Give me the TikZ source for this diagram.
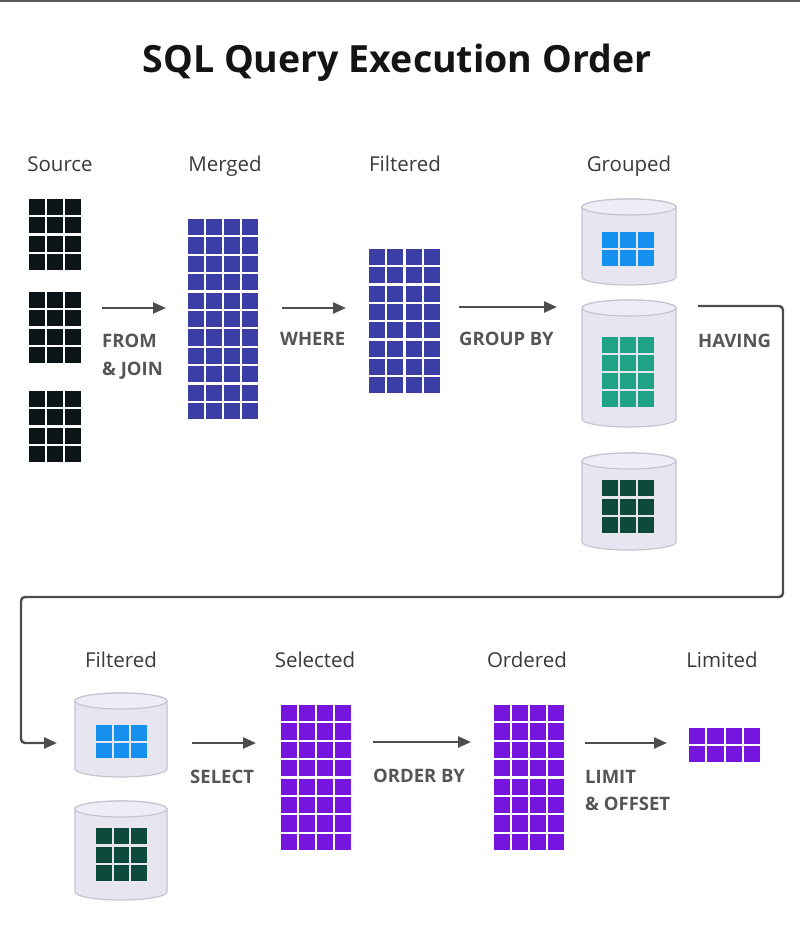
\documentclass[tikz,border=0pt]{standalone}
\usepackage{fontspec}
\setmainfont{Open Sans}
\usetikzlibrary{arrows.meta}
\definecolor{cblk}{HTML}{0B1417}
\definecolor{cblu}{HTML}{3B3FA5}
\definecolor{ccyan}{HTML}{1590EE}
\definecolor{cteal}{HTML}{1FA386}
\definecolor{cdkg}{HTML}{0E4A3B}
\definecolor{cpur}{HTML}{7614E0}
\definecolor{carrow}{HTML}{4D4D4D}
\definecolor{copl}{HTML}{555555}
\definecolor{ccat}{HTML}{3A3A3A}
\definecolor{cylbody}{HTML}{E7E6F0}
\definecolor{cyltopc}{HTML}{EEEDF5}
\definecolor{cyledge}{HTML}{C6C4D3}
\newcommand\sqgrid[7]{%
  \foreach \ci in {1,...,#3}{\foreach \cj in {1,...,#4}{%
    \fill[#7] ({#1+(\ci-1)*#5},{#2+(\cj-1)*#6}) rectangle +({#5-2.2},{#6-2.2});}}}
% name, xl, xr, yt, yb, cx, rx
\newcommand\dbcyl[7]{%
  \fill[cylbody, draw=cyledge, line width=1.2] (#2,#4+8) -- (#2,#5-8)
     arc[start angle=180, end angle=0, x radius=#7, y radius=8] -- (#3,#4+8)
     arc[start angle=0, end angle=-180, x radius=#7, y radius=8] -- cycle;
  \draw[cyledge, fill=cyltopc, line width=1.2] (#6,#4+8) ellipse [x radius=#7, y radius=8];
  \coordinate (#1) at (#6,{(#4+#5)/2});}
\tikzset{
  arr/.style={draw=carrow, line width=2.4, -{Triangle[length=13,width=11]}},
  catlbl/.style={anchor=base, text=ccat, inner sep=0, font=\fontsize{20.5}{24}\selectfont},
  oplbl/.style={anchor=base west, text=copl, inner sep=0, font=\fontsize{18.5}{22}\selectfont\bfseries},
}
\begin{document}
\begin{tikzpicture}[x=1pt,y=-1pt]
\useasboundingbox (0,0) rectangle (800,934);
\fill[white] (0,0) rectangle (800,934);
\fill[gray!70!black] (0,0) rectangle (800,2.5);

\node[anchor=base, inner sep=0, text=black!92, font=\fontsize{37.5}{42}\selectfont\bfseries] (title) at (397,73) {SQL Query Execution Order};

% top labels
\node[catlbl] (lsource) at (60,171) {Source};
\node[catlbl] (lmerged) at (225,171) {Merged};
\node[catlbl] (lfilt1) at (405,171) {Filtered};
\node[catlbl] (lgroup) at (629,171) {Grouped};
% bottom labels
\node[catlbl] (lfilt2) at (121,667) {Filtered};
\node[catlbl] (lsel) at (315,667) {Selected};
\node[catlbl] (lord) at (527,667) {Ordered};
\node[catlbl] (llim) at (722,667) {Limited};

% source grids
\sqgrid{29}{199}{3}{4}{18}{18.3}{cblk}
\sqgrid{29}{292}{3}{4}{18}{18.3}{cblk}
\sqgrid{29}{391}{3}{4}{18}{18.3}{cblk}
% merged
\sqgrid{188}{219}{4}{11}{18}{18.4}{cblu}
% filtered
\sqgrid{369}{249}{4}{8}{18.3}{18.3}{cblu}

% grouped cylinders
\dbcyl{cyl1}{582}{676}{199}{285}{629}{47}
\dbcyl{cyl2}{582}{676}{300}{427}{629}{47}
\dbcyl{cyl3}{582}{676}{453}{550}{629}{47}
\sqgrid{602}{232}{3}{2}{18}{18}{ccyan}
\sqgrid{602}{337}{3}{4}{18}{18}{cteal}
\sqgrid{602}{480}{3}{3}{18}{18.5}{cdkg}

% bottom filtered cylinders
\dbcyl{cyl4}{75}{167}{693}{777}{121}{46}
\dbcyl{cyl5}{75}{167}{801}{900}{121}{46}
\sqgrid{96}{725}{3}{2}{17.7}{17.7}{ccyan}
\sqgrid{96}{828}{3}{3}{17.7}{18.5}{cdkg}

% selected, ordered, limited
\sqgrid{281}{705}{4}{8}{18.1}{18.4}{cpur}
\sqgrid{494}{705}{4}{8}{18.1}{18.4}{cpur}
\sqgrid{689}{728}{4}{2}{18.4}{18}{cpur}

% arrows
\coordinate (f1) at (102,308); \coordinate (f2) at (166,308);
\coordinate (w1) at (282,308); \coordinate (w2) at (346,308);
\coordinate (g1) at (459,307); \coordinate (g2) at (557,307);
\coordinate (h1) at (698,306); \coordinate (h2) at (783,306);
\coordinate (h3) at (783,597); \coordinate (h4) at (21,597);
\coordinate (h5) at (21,743); \coordinate (h6) at (57,743);
\coordinate (s1) at (192,743); \coordinate (s2) at (256,743);
\coordinate (o1) at (373,742); \coordinate (o2) at (471,742);
\coordinate (l1) at (585,743); \coordinate (l2) at (667,743);
\draw[arr] (f1) -- (f2);
\draw[arr] (w1) -- (w2);
\draw[arr] (g1) -- (g2);
\draw[arr, rounded corners=4] (h1) -- (h2) -- (h3) -- (h4) -- (h5) -- (h6);
\draw[arr] (s1) -- (s2);
\draw[arr] (o1) -- (o2);
\draw[arr] (l1) -- (l2);

% operation labels
\node[oplbl] (tfrom) at (102,347) {FROM};
\node[oplbl] (tjoin) at (102,375) {\& JOIN};
\node[oplbl] (twhere) at (280,345) {WHERE};
\node[oplbl] (tgroup) at (459,345) {GROUP BY};
\node[oplbl] (thaving) at (698,347) {HAVING};
\node[oplbl] (tselect) at (190,783) {SELECT};
\node[oplbl] (torder) at (373,782) {ORDER BY};
\node[oplbl] (tlimit) at (585,783) {LIMIT};
\node[oplbl] (toffset) at (585,810) {\& OFFSET};
\end{tikzpicture}
\end{document}
